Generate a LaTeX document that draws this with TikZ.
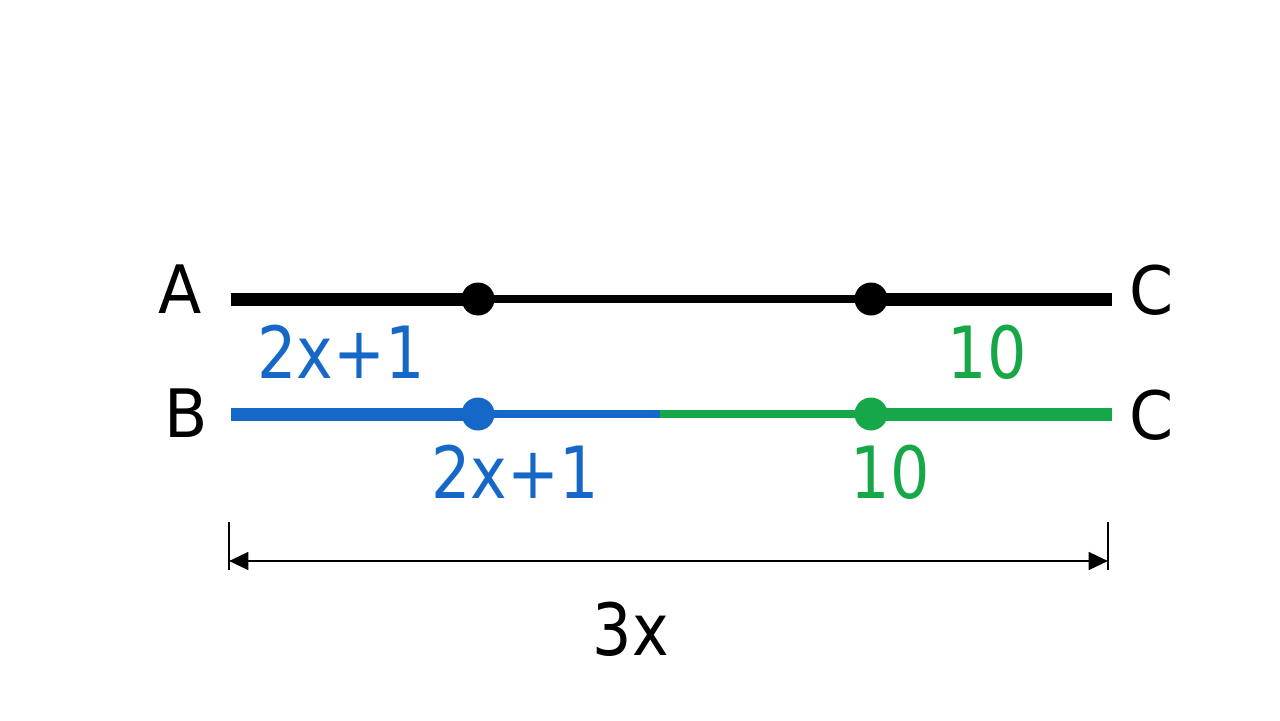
\documentclass[tikz,border=0pt]{standalone}
\usepackage{fontspec}
\setmainfont[FakeStretch=0.86]{DejaVu Sans}
\usetikzlibrary{arrows.meta}

\definecolor{segblue}{RGB}{22,104,200}
\definecolor{seggreen}{RGB}{22,168,72}

\begin{document}
\begin{tikzpicture}[x=0.02cm,y=-0.02cm,
    thickseg/.style={line width=7.4pt},
    thinseg/.style={line width=5.1pt},
    dot/.style={circle,fill,inner sep=0pt,minimum size=0.66cm},
    endlbl/.style={anchor=base,font=\fontsize{38}{42}\selectfont},
    vallbl/.style={anchor=base,font=\fontsize{41}{46}\selectfont}]

  \useasboundingbox (0,0) rectangle (1280,720);

  % top segment
  \coordinate (a) at (231,299);
  \coordinate (p1) at (478,299);
  \coordinate (q1) at (871,299);
  \coordinate (c1) at (1112,299);
  \draw[thickseg] (a) -- (p1);
  \draw[thinseg] (p1) -- (q1);
  \draw[thickseg] (q1) -- (c1);
  \node[dot] (dp1) at (p1) {};
  \node[dot] (dq1) at (q1) {};

  \node[endlbl, xscale=1.1] (la) at (180,313) {A};
  \node[endlbl, xscale=1.1] (lc1) at (1152,314) {C};
  \node[vallbl, text=segblue] (v1) at (341,378) {2x+1};
  \node[vallbl, text=seggreen] (w1) at (987,378) {10};

  % bottom segment
  \coordinate (b) at (231,414);
  \coordinate (p2) at (478,414);
  \coordinate (m2) at (660,414);
  \coordinate (q2) at (871,414);
  \coordinate (c2) at (1112,414);
  \draw[thickseg, segblue] (b) -- (p2);
  \draw[thinseg, segblue] (p2) -- (m2);
  \draw[thinseg, seggreen] (m2) -- (q2);
  \draw[thickseg, seggreen] (q2) -- (c2);
  \node[dot, segblue] (dp2) at (p2) {};
  \node[dot, seggreen] (dq2) at (q2) {};

  \node[endlbl, xscale=1.1] (lb) at (186,437) {B};
  \node[endlbl, xscale=1.1] (lc2) at (1152,439) {C};
  \node[vallbl, text=segblue] (v2) at (515,498) {2x+1};
  \node[vallbl, text=seggreen] (w2) at (890,498) {10};

  % dimension
  \coordinate (t1) at (229,522);
  \coordinate (t1b) at (229,570);
  \coordinate (t2) at (1108,522);
  \coordinate (t2b) at (1108,570);
  \coordinate (d1) at (229,561);
  \coordinate (d2) at (1108,561);
  \draw[line width=1.1pt] (t1) -- (t1b);
  \draw[line width=1.1pt] (t2) -- (t2b);
  \draw[line width=1.6pt, {Triangle[length=11pt,width=10pt]}-{Triangle[length=11pt,width=10pt]}] (d1) -- (d2);
  \node[vallbl] (len) at (631,655) {3x};

\end{tikzpicture}
\end{document}
